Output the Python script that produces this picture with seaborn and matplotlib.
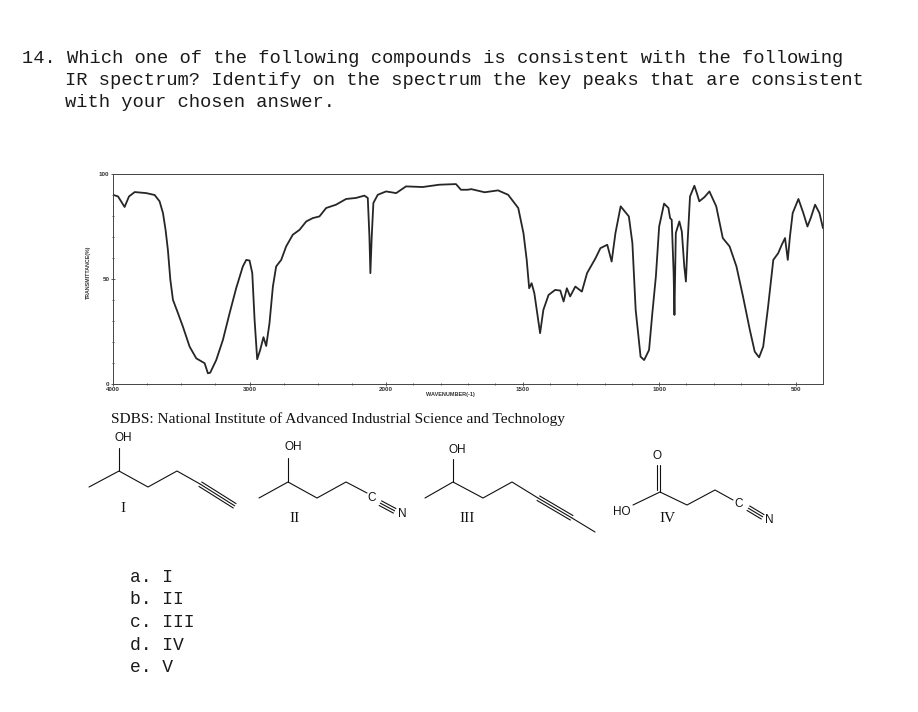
import numpy as np
import pandas as pd
import matplotlib
matplotlib.use("Agg")
import matplotlib.pyplot as plt
import seaborn as sns

# Texto de la pregunta y opciones de respuesta
pregunta = [
    "14. Which one of the following compounds is consistent with the following",
    "IR spectrum? Identify on the spectrum the key peaks that are consistent",
    "with your chosen answer.",
]
opciones = ["a. I", "b. II", "c. III", "d. IV", "e. V"]
fuente_sdbs = "SDBS: National Institute of Advanced Industrial Science and Technology"

# Espectro IR (número de onda en cm-1, transmitancia en %)
numero_onda = [
    4000, 3963, 3915, 3883, 3841, 3756, 3695, 3659, 3634, 3615, 3598, 3580, 3561,
    3524, 3488, 3439, 3390, 3329, 3305, 3288, 3244, 3195, 3146, 3098, 3049, 3024,
    3000, 2980, 2963, 2944, 2922, 2898, 2878, 2854, 2829, 2805, 2768, 2732, 2683,
    2634, 2585, 2537, 2488, 2439, 2366, 2293, 2220, 2159, 2134, 2122, 2115, 2105,
    2093, 2061, 2000, 1963, 1927, 1866, 1805, 1744, 1726, 1701, 1688, 1639, 1590,
    1553, 1516, 1497, 1485, 1476, 1467, 1457, 1436, 1424, 1405, 1381, 1362, 1350,
    1338, 1326, 1307, 1283, 1264, 1233, 1215, 1190, 1174, 1160, 1141, 1111, 1098,
    1086, 1068, 1055, 1037, 1025, 1012, 1000, 982, 966, 960, 954, 947, 944, 939,
    926, 917, 908, 902, 896, 887, 871, 862, 853, 834, 816, 791, 767, 742, 717,
    693, 668, 650, 634, 619, 601, 582, 564, 551, 539, 529, 521, 511, 490, 472,
    457, 445, 429, 413, 400,
]
transmitancia = [
    90.1, 89.3, 84.3, 89.3, 91.4, 90.9, 90.0, 87.0, 81.4, 73.4, 63.9, 49.6, 40.1,
    33.7, 27.3, 17.8, 12.2, 9.9, 5.1, 5.4, 11.4, 21.0, 33.7, 45.6, 56.0, 59.1,
    58.8, 52.8, 30.5, 11.8, 16.2, 22.3, 18.1, 28.9, 46.4, 56.0, 59.1, 65.5, 71.1,
    73.4, 77.4, 79.0, 79.8, 83.8, 85.4, 88.1, 88.6, 89.7, 88.6, 70.3, 52.8, 70.3,
    86.2, 90.1, 91.7, 90.9, 94.1, 93.8, 94.9, 95.2, 92.5, 92.5, 92.8, 91.3, 92.2,
    90.1, 83.8, 71.9, 59.1, 45.6, 48.0, 43.2, 24.2, 35.3, 42.4, 44.8, 44.5, 39.3,
    45.6, 41.7, 46.4, 44.0, 52.8, 59.9, 64.7, 66.3, 58.3, 71.9, 84.6, 79.8, 67.1,
    35.3, 13.0, 11.4, 16.2, 33.7, 51.2, 75.0, 85.9, 83.8, 79.0, 78.2, 52.8, 32.9, 71.9,
    77.4, 72.6, 56.0, 48.8, 67.1, 89.3, 94.4, 90.9, 87.0, 89.0, 91.7, 84.6, 69.5, 65.5, 56.0,
    41.7, 25.8, 15.4, 12.7, 17.8, 36.9, 59.1, 62.3, 66.3, 69.5, 59.1, 70.3, 81.4, 88.1, 81.4,
    75.0, 79.0, 85.4, 81.4, 74.2,
]
ticks_x = [4000, 3000, 2000, 1500, 1000, 500]
ticks_y = [0, 50, 100]

# Esqueletos de las moléculas (coordenadas en píxeles de la página)
cadenas = [
    [(89, 487), (119, 471), (148, 487), (177, 471), (200, 484)],          # I
    [(119, 471), (119, 448)],
    [(259, 498), (288, 482), (317, 498), (346, 482), (367, 493)],         # II
    [(288, 482), (288, 458)],
    [(425, 498), (453, 482), (483, 498), (512, 482), (538, 498)],         # III
    [(453, 482), (453, 459)],
    [(572, 518), (595, 532)],
    [(633, 505), (660, 492), (687, 505), (715, 490), (733, 500)],         # IV
    [(660, 492), (660, 465)],
    [(656.5, 490), (656.5, 465)],
]
triples = [
    [(200, 484), (235, 506)],
    [(380, 503), (395, 511)],
    [(538, 498), (572, 518)],
    [(748, 508), (763, 517)],
]
atomos = [
    ("OH", 123, 438), ("OH", 293, 447), ("C", 372, 498), ("N", 402, 514),
    ("OH", 457, 450), ("HO", 622, 512), ("O", 657, 456), ("C", 739, 504),
    ("N", 769, 520),
]
numerales = [("I", 123, 508), ("II", 295, 518), ("III", 467, 518), ("IV", 667, 518)]

tinta = "#111111"

sns.set_style("ticks")
plt.rcParams["font.family"] = ["Liberation Sans", "DejaVu Sans"]

fig = plt.figure(figsize=(9.18, 7.12), dpi=100)
fig.patch.set_facecolor("white")

# Capa de dibujo en píxeles para texto y estructuras
lienzo = fig.add_axes([0, 0, 1, 1], zorder=0)
lienzo.set_xlim(0, 918)
lienzo.set_ylim(712, 0)
lienzo.axis("off")

for i, linea in enumerate(pregunta):
    lienzo.text(22 if i == 0 else 65, 63 + 22 * i, linea, family="Liberation Mono",
                fontsize=13.5, color="#1a1a1a", va="baseline", ha="left")

for i, op in enumerate(opciones):
    lienzo.text(130, 582 + 22.5 * i, op, family="Liberation Mono", fontsize=13,
                color="#1a1a1a", va="baseline", ha="left")

lienzo.text(111, 423, fuente_sdbs, family="Liberation Serif", fontsize=11.1,
            color=tinta, va="baseline", ha="left")


def enlace_triple(ax, p, q, sep=2.6):
    p, q = np.array(p, float), np.array(q, float)
    d = q - p
    n = np.array([-d[1], d[0]]) / np.hypot(*d)
    for k in (-1, 0, 1):
        a, b = p + k * sep * n, q + k * sep * n
        ax.plot([a[0], b[0]], [a[1], b[1]], color=tinta, lw=0.8,
                solid_capstyle="butt")


for c in cadenas:
    xs, ys = zip(*c)
    lienzo.plot(xs, ys, color=tinta, lw=0.8, solid_joinstyle="miter")
for p, q in triples:
    enlace_triple(lienzo, p, q)
for txt, x, y in atomos:
    lienzo.text(x, y, txt, fontsize=8.5, color=tinta, ha="center", va="center")
for txt, x, y in numerales:
    lienzo.text(x, y, txt, family="Liberation Serif", fontsize=11, color=tinta,
                ha="center", va="center")

# Espectro IR con escala partida (2000-400 a doble escala)
df = pd.DataFrame({"onda": numero_onda, "T": transmitancia})
ax = fig.add_axes([113 / 918, 1 - 384 / 712, 710 / 918, 210 / 712], zorder=1)
ax.patch.set_alpha(0)
sns.lineplot(data=df, x="onda", y="T", ax=ax, color="#262626", lw=1.3,
             estimator=None, sort=False)


def directa(w):
    w = np.asarray(w, float)
    return np.where(w <= 2000, w, 2000 + (w - 2000) / 2)


def inversa(u):
    u = np.asarray(u, float)
    return np.where(u <= 2000, u, 2000 + (u - 2000) * 2)


ax.set_xscale("function", functions=(directa, inversa))
ax.set_xlim(4000, 400)
ax.set_ylim(0, 100)
ax.set_xticks(ticks_x)
ax.set_xticklabels([str(t) for t in ticks_x])
ax.set_xticks(list(range(3750, 2000, -250)) + list(range(1900, 400, -100)), minor=True)
ax.set_yticks(ticks_y)
ax.set_yticks(range(10, 100, 10), minor=True)
ax.tick_params(which="both", direction="inout", length=3, width=0.6, color="#444",
               labelsize=4.5, pad=1, labelcolor="#333")
ax.tick_params(which="minor", length=2)
for t in ax.get_xticklabels() + ax.get_yticklabels():
    t.set_fontweight("bold")
for s in ax.spines.values():
    s.set_linewidth(0.7)
    s.set_color("#444")
ax.set_xlabel("")
ax.set_ylabel("")
ax.text(0.475, -0.04, "WAVENUMBER(-1)", transform=ax.transAxes, fontsize=4,
        fontweight="bold", color="#333", ha="center", va="top")
ax.text(-0.035, 0.53, "TRANSMITTANCE(%)", transform=ax.transAxes, fontsize=3.8,
        fontweight="bold", color="#333", ha="center", va="center", rotation=90)

fig.savefig("out.png", dpi=100)
